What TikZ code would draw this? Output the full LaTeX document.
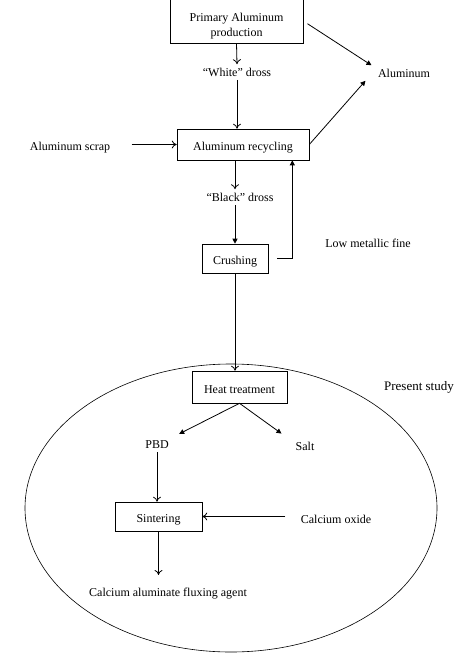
\documentclass[tikz,border=0pt]{standalone}
\usepackage{fontspec}
\setmainfont{Liberation Serif}
\usetikzlibrary{arrows.meta,shapes.geometric}
\begin{document}
\begin{tikzpicture}[x=1pt, y=-1pt, font=\fontsize{12}{14}\selectfont,
    stage/.style={draw, fill=white, line width=0.6pt, inner sep=0pt, text height=14pt, text depth=2pt},
    openarr/.style={-{To[length=5pt,width=8pt]}, line width=0.8pt},
    fillarr/.style={-{Triangle[length=5pt,width=5pt]}, line width=0.8pt}]
            % Fluxo do reciclagem da escoria de aluminio
            \useasboundingbox (0,0) rectangle (474,656);
            \node at (231,508) (studyarea) [ellipse, draw, line width=0.6pt, minimum width=412pt, minimum height=288pt] {};
            \node at (236.5,18) (prim) [draw, fill=white, line width=0.6pt, minimum width=133pt, minimum height=50pt] {\raisebox{-8pt}[\height][\depth]{\begin{tabular}{@{}c@{}}Primary Aluminum\\[1pt]production\end{tabular}}};
            \node at (237,72) (white) {``White'' dross};
            \node at (404,73) (alu) {Aluminum};
            \node at (243,144.5) (recyc) [stage, minimum width=132pt, minimum height=31pt] {Aluminum recycling};
            \node at (70,148) (scrap) {Aluminum scrap};
            \node at (240,197) (black) {``Black'' dross};
            \node at (235,258.5) (crush) [stage, minimum width=66pt, minimum height=29pt] {Crushing};
            \node at (368,243) (lowfine) {Low metallic fine};
            \node at (239.5,387) (heat) [stage, minimum width=95pt, minimum height=32pt] {Heat treatment};
            \node at (419,387) (study) [font=\fontsize{13}{15}\selectfont] {Present study};
            \node at (157,445) (pbd) {PBD};
            \node at (305,446) (salt) {Salt};
            \node at (158.5,516.5) (sint) [stage, minimum width=87pt, minimum height=29pt] {Sintering};
            \node at (336,519) (cao) {Calcium oxide};
            \node at (168,594) (agent) {Calcium aluminate fluxing agent};
            \draw[openarr] (prim.south) -- (white.north);
            \draw[openarr] (white.south) -- (white.south |- recyc.north);
            \draw[openarr, shorten <=18pt] (scrap.east |- recyc.west) -- (recyc.west);
            \draw[fillarr, shorten <=5pt] (prim.east |- 0,21) -- ([xshift=-3pt]alu.north west);
            \draw[fillarr] (recyc.east) -- ([xshift=-9pt]alu.south west);
            \draw[openarr] (recyc.south -| crush) -- (black.north -| crush);
            \draw[fillarr] (black.south -| crush) -- (crush.north);
            \draw[fillarr, shorten <=9pt] (crush.east) -| ([xshift=-17pt]recyc.south east);
            \draw[openarr] (crush.south) -- (heat.north -| crush);
            \draw[fillarr, shorten >=8pt] (heat.south) -- ([xshift=15pt]pbd.north);
            \draw[fillarr, shorten >=8pt] (heat.south) -- ([xshift=-17pt]salt.north);
            \draw[openarr] (pbd.south) -- (pbd.south |- sint.north);
            \draw[openarr, shorten <=12pt] (cao.west |- sint.east) -- (sint.east);
            \draw[openarr, shorten >=10pt] (sint.south) -- (sint.south |- agent.north);
        \end{tikzpicture}
\end{document}
